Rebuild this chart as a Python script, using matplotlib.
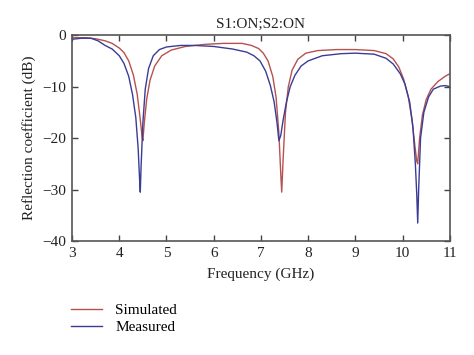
import matplotlib
matplotlib.use("Agg")
import matplotlib.pyplot as plt
from matplotlib.lines import Line2D

plt.rcParams['font.family'] = ['Liberation Serif', 'DejaVu Serif']

sim_f = [3.0, 3.3, 3.5, 3.7, 3.85, 4.0, 4.1, 4.2, 4.3, 4.38, 4.44, 4.48, 4.5, 4.53, 4.58, 4.65, 4.75, 4.9, 5.1, 5.4, 5.8, 6.2, 6.6, 6.8, 6.95, 7.05, 7.15, 7.25, 7.32, 7.38, 7.42, 7.44, 7.47, 7.52, 7.58, 7.66, 7.78, 7.95, 8.2, 8.6, 9.0, 9.4, 9.65, 9.8, 9.92, 10.02, 10.12, 10.2, 10.26, 10.3, 10.32, 10.36, 10.42, 10.5, 10.6, 10.75, 10.9, 11.0]
sim_db = [-0.5, -0.5, -0.7, -1.1, -1.6, -2.5, -3.4, -5.0, -7.8, -11.5, -16.0, -19.5, -20.5, -17.0, -12.5, -8.8, -6.0, -4.0, -2.9, -2.2, -1.8, -1.6, -1.6, -2.0, -2.6, -3.5, -5.0, -8.0, -12.0, -19.0, -27.0, -30.5, -24.0, -15.0, -10.0, -6.8, -4.7, -3.5, -3.0, -2.8, -2.8, -3.0, -3.6, -4.6, -6.2, -8.5, -12.0, -16.5, -21.5, -24.5, -25.0, -20.0, -15.5, -12.5, -10.5, -9.0, -8.0, -7.5]

mea_f = [3.0, 3.2, 3.4, 3.55, 3.7, 3.85, 4.0, 4.1, 4.2, 4.28, 4.35, 4.4, 4.43, 4.445, 4.46, 4.5, 4.55, 4.62, 4.72, 4.85, 5.0, 5.3, 5.6, 6.0, 6.4, 6.7, 6.85, 6.98, 7.1, 7.2, 7.28, 7.34, 7.38, 7.42, 7.47, 7.54, 7.62, 7.72, 7.85, 8.0, 8.3, 8.7, 9.0, 9.4, 9.65, 9.8, 9.95, 10.05, 10.15, 10.22, 10.27, 10.3, 10.32, 10.34, 10.38, 10.45, 10.55, 10.65, 10.8, 10.9, 11.0]
mea_db = [-0.8, -0.6, -0.6, -1.1, -2.0, -2.7, -4.0, -5.5, -8.0, -11.5, -16.0, -22.0, -28.0, -30.5, -26.0, -17.0, -10.5, -6.5, -4.0, -2.8, -2.3, -2.0, -2.0, -2.2, -2.7, -3.3, -4.0, -5.0, -7.0, -9.8, -13.0, -17.0, -20.5, -19.5, -16.5, -13.0, -10.0, -7.8, -6.0, -5.0, -4.0, -3.6, -3.5, -3.7, -4.5, -5.6, -7.5, -9.5, -13.0, -18.0, -25.0, -31.0, -36.5, -30.0, -20.0, -15.0, -12.0, -10.5, -9.9, -9.8, -10.0]

title = "S1:ON;S2:ON"
xlabel = "Frequency (GHz)"
ylabel = "Reflection coefficient (dB)"
xticks = [3, 4, 5, 6, 7, 8, 9, 10, 11]
yticks = [0, -10, -20, -30, -40]
legend_labels = ["Simulated", "Measured"]

red = "#b5524f"
blue = "#3a3c96"

fig = plt.figure(figsize=(4.74, 3.55), dpi=100)
ax = fig.add_axes([0.152, 0.321, 0.797, 0.580])
ax.plot(sim_f, sim_db, color=red, lw=1.0)
ax.plot(mea_f, mea_db, color=blue, lw=1.0)
ax.set_xlim(3, 11)
ax.set_ylim(-40, 0)
ax.set_xticks(xticks)
ax.set_yticks(yticks)
ax.set_yticklabels(["0", "\u221210", "\u221220", "\u221230", "\u221240"])
ax.tick_params(direction='in', top=True, right=True, labelsize=11, length=4, width=1, color='#444444', colors='#222222', pad=4)
for s in ax.spines.values():
    s.set_color('#555555')
    s.set_linewidth(1.2)
ax.set_title(title, fontsize=11, pad=5, color='#222222')
ax.set_xlabel(xlabel, fontsize=11, color='#222222', labelpad=6)
ax.set_ylabel(ylabel, fontsize=11, color='#222222', labelpad=5)

handles = [Line2D([], [], color=red, lw=1.0), Line2D([], [], color=blue, lw=1.0)]
fig.legend(handles, legend_labels, loc='upper left', bbox_to_anchor=(0.137, 0.163), frameon=False,
           fontsize=11, handlelength=2.0, handletextpad=0.9, labelspacing=0.25, borderaxespad=0)

fig.savefig("out.png", dpi=100)
